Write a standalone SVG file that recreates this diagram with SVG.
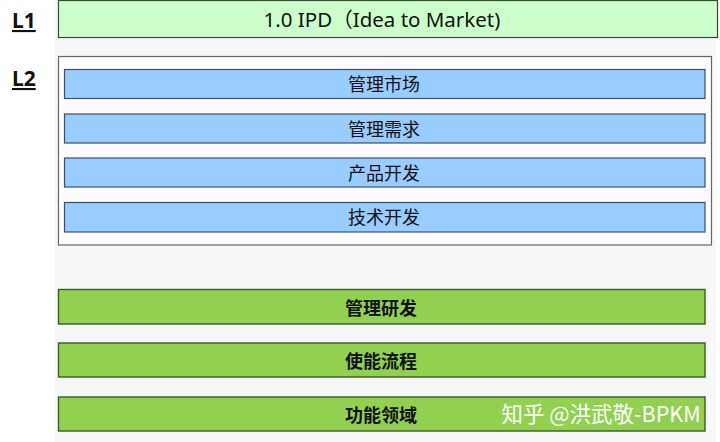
<svg xmlns="http://www.w3.org/2000/svg" width="720" height="442" viewBox="0 0 720 442">
<style>
.lbl{font-family:"Noto Sans","Noto Sans CJK SC",sans-serif;font-size:21px;font-weight:bold;text-decoration:underline;fill:#111}
.t{font-family:"Noto Sans","Noto Sans CJK SC",sans-serif;font-size:18px;fill:#111;text-anchor:middle;dominant-baseline:central}
.tb{font-family:"Noto Sans CJK SC",sans-serif;font-size:18px;font-weight:bold;fill:#111;text-anchor:middle;dominant-baseline:central}
.blue{fill:#99ccff;stroke:#3a5068;stroke-width:1.2}
.green{fill:#92d050;stroke:#3b5a26;stroke-width:1.4}
</style>
<rect x="0" y="0" width="720" height="442" fill="#ffffff"/>
<rect x="55" y="0" width="661" height="442" fill="#f7f7f7"/>
<text class="lbl" x="12" y="28">L1</text>
<text class="lbl" x="12" y="86">L2</text>
<g id="l1">
<rect x="58.5" y="0.5" width="659" height="37" fill="#ccffcc" stroke="#3b4a3b" stroke-width="1.2"/>
<text class="t" x="382" y="19" style="font-size:20.5px">1.0 IPD（Idea to Market)</text>
</g>
<g id="l2">
<rect x="58.5" y="56.5" width="653" height="188.5" fill="#fdfbfb" stroke="#666" stroke-width="1.2"/>
</g>
<g id="n1"><rect class="blue" x="64.5" y="69.5" width="640.5" height="29"/><text class="t" x="384" y="84">管理市场</text></g>
<g id="n2"><rect class="blue" x="64.5" y="114" width="640.5" height="29"/><text class="t" x="384" y="128.5">管理需求</text></g>
<g id="n3"><rect class="blue" x="64.5" y="158" width="640.5" height="29"/><text class="t" x="384" y="172.5">产品开发</text></g>
<g id="n4"><rect class="blue" x="64.5" y="202.5" width="640.5" height="29.5"/><text class="t" x="384" y="217">技术开发</text></g>
<g id="g1"><rect class="green" x="58.5" y="289.5" width="646.5" height="34.5"/><text class="tb" x="381" y="307">管理研发</text></g>
<g id="g2"><rect class="green" x="58.5" y="343" width="646.5" height="34"/><text class="tb" x="381" y="360">使能流程</text></g>
<g id="g3"><rect class="green" x="58.5" y="397" width="646.5" height="34"/><text class="tb" x="381" y="414">功能领域</text></g>
<g id="connectors"></g>
<text x="601" y="412" font-family="Noto Sans CJK SC,sans-serif" font-size="21.5" fill="#ffffff" text-anchor="middle" dominant-baseline="central">知乎 @洪武敬-BPKM</text>
</svg>
